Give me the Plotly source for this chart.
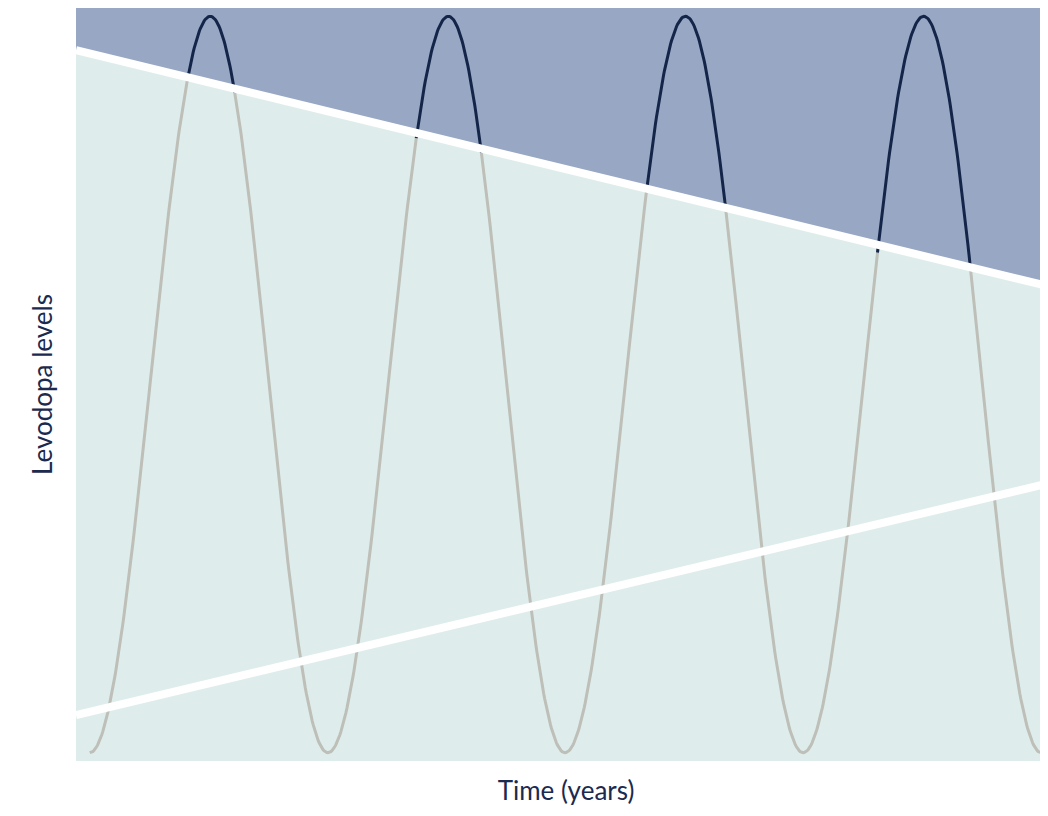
import numpy as np
import plotly.graph_objects as go

# extrema of the levodopa wave (time, level)
ext_t = [0.14, 1.37, 2.57, 3.80, 4.99, 6.22, 7.42, 8.65, 9.85]
ext_y = [0.11, 9.89, 0.11, 9.89, 0.11, 9.89, 0.11, 9.89, 0.11]
# threshold lines (start/end)
upper_x = [0, 10]; upper_y = [9.44, 6.28]
lower_x = [0, 10]; lower_y = [0.61, 3.71]

# smooth curve between read extrema (half-cosine shape)
tt, yy = [], []
for i in range(len(ext_t) - 1):
    s = np.linspace(0, 1, 120, endpoint=False)
    tt.extend(ext_t[i] + (ext_t[i+1] - ext_t[i]) * s)
    yy.extend(ext_y[i] + (ext_y[i+1] - ext_y[i]) * (1 - np.cos(np.pi * s)) / 2)
tt.append(ext_t[-1]); yy.append(ext_y[-1])
tt = np.array(tt); yy = np.array(yy)
thr = np.interp(tt, upper_x, upper_y)
above = yy >= thr
# extend masks by one point for continuity
ab = above | np.roll(above, 1) | np.roll(above, -1)
be = (~above) | np.roll(~above, 1) | np.roll(~above, -1)
y_dark = np.where(ab, yy, np.nan)
y_gray = np.where(be, yy, np.nan)

fig = go.Figure()
fig.add_trace(go.Scatter(x=upper_x + upper_x[::-1], y=upper_y + [10, 10], fill="toself",
                         fillcolor="#98a7c3", line=dict(width=0), mode="lines", hoverinfo="skip"))
fig.add_trace(go.Scatter(x=tt, y=y_gray, mode="lines", line=dict(color="#bdbfb8", width=3)))
fig.add_trace(go.Scatter(x=tt, y=y_dark, mode="lines", line=dict(color="#14254a", width=3)))
fig.add_trace(go.Scatter(x=upper_x, y=upper_y, mode="lines", line=dict(color="white", width=8)))
fig.add_trace(go.Scatter(x=lower_x, y=lower_y, mode="lines", line=dict(color="white", width=8)))

fig.update_layout(
    width=1048, height=816, showlegend=False,
    margin=dict(l=68, r=0, t=0, b=63),
    plot_bgcolor="#deedeb", paper_bgcolor="white",
    font=dict(family="Lato, Open Sans, sans-serif", color="#1b2a4e"),
    xaxis=dict(range=[0, 10], showgrid=False, zeroline=False, showticklabels=False,
               title=dict(text="Time (years)", font=dict(size=26), standoff=20)),
    yaxis=dict(range=[0, 10], showgrid=False, zeroline=False, showticklabels=False,
               title=dict(text="Levodopa levels", font=dict(size=26), standoff=14)),
)
fig.write_html("out.html")
